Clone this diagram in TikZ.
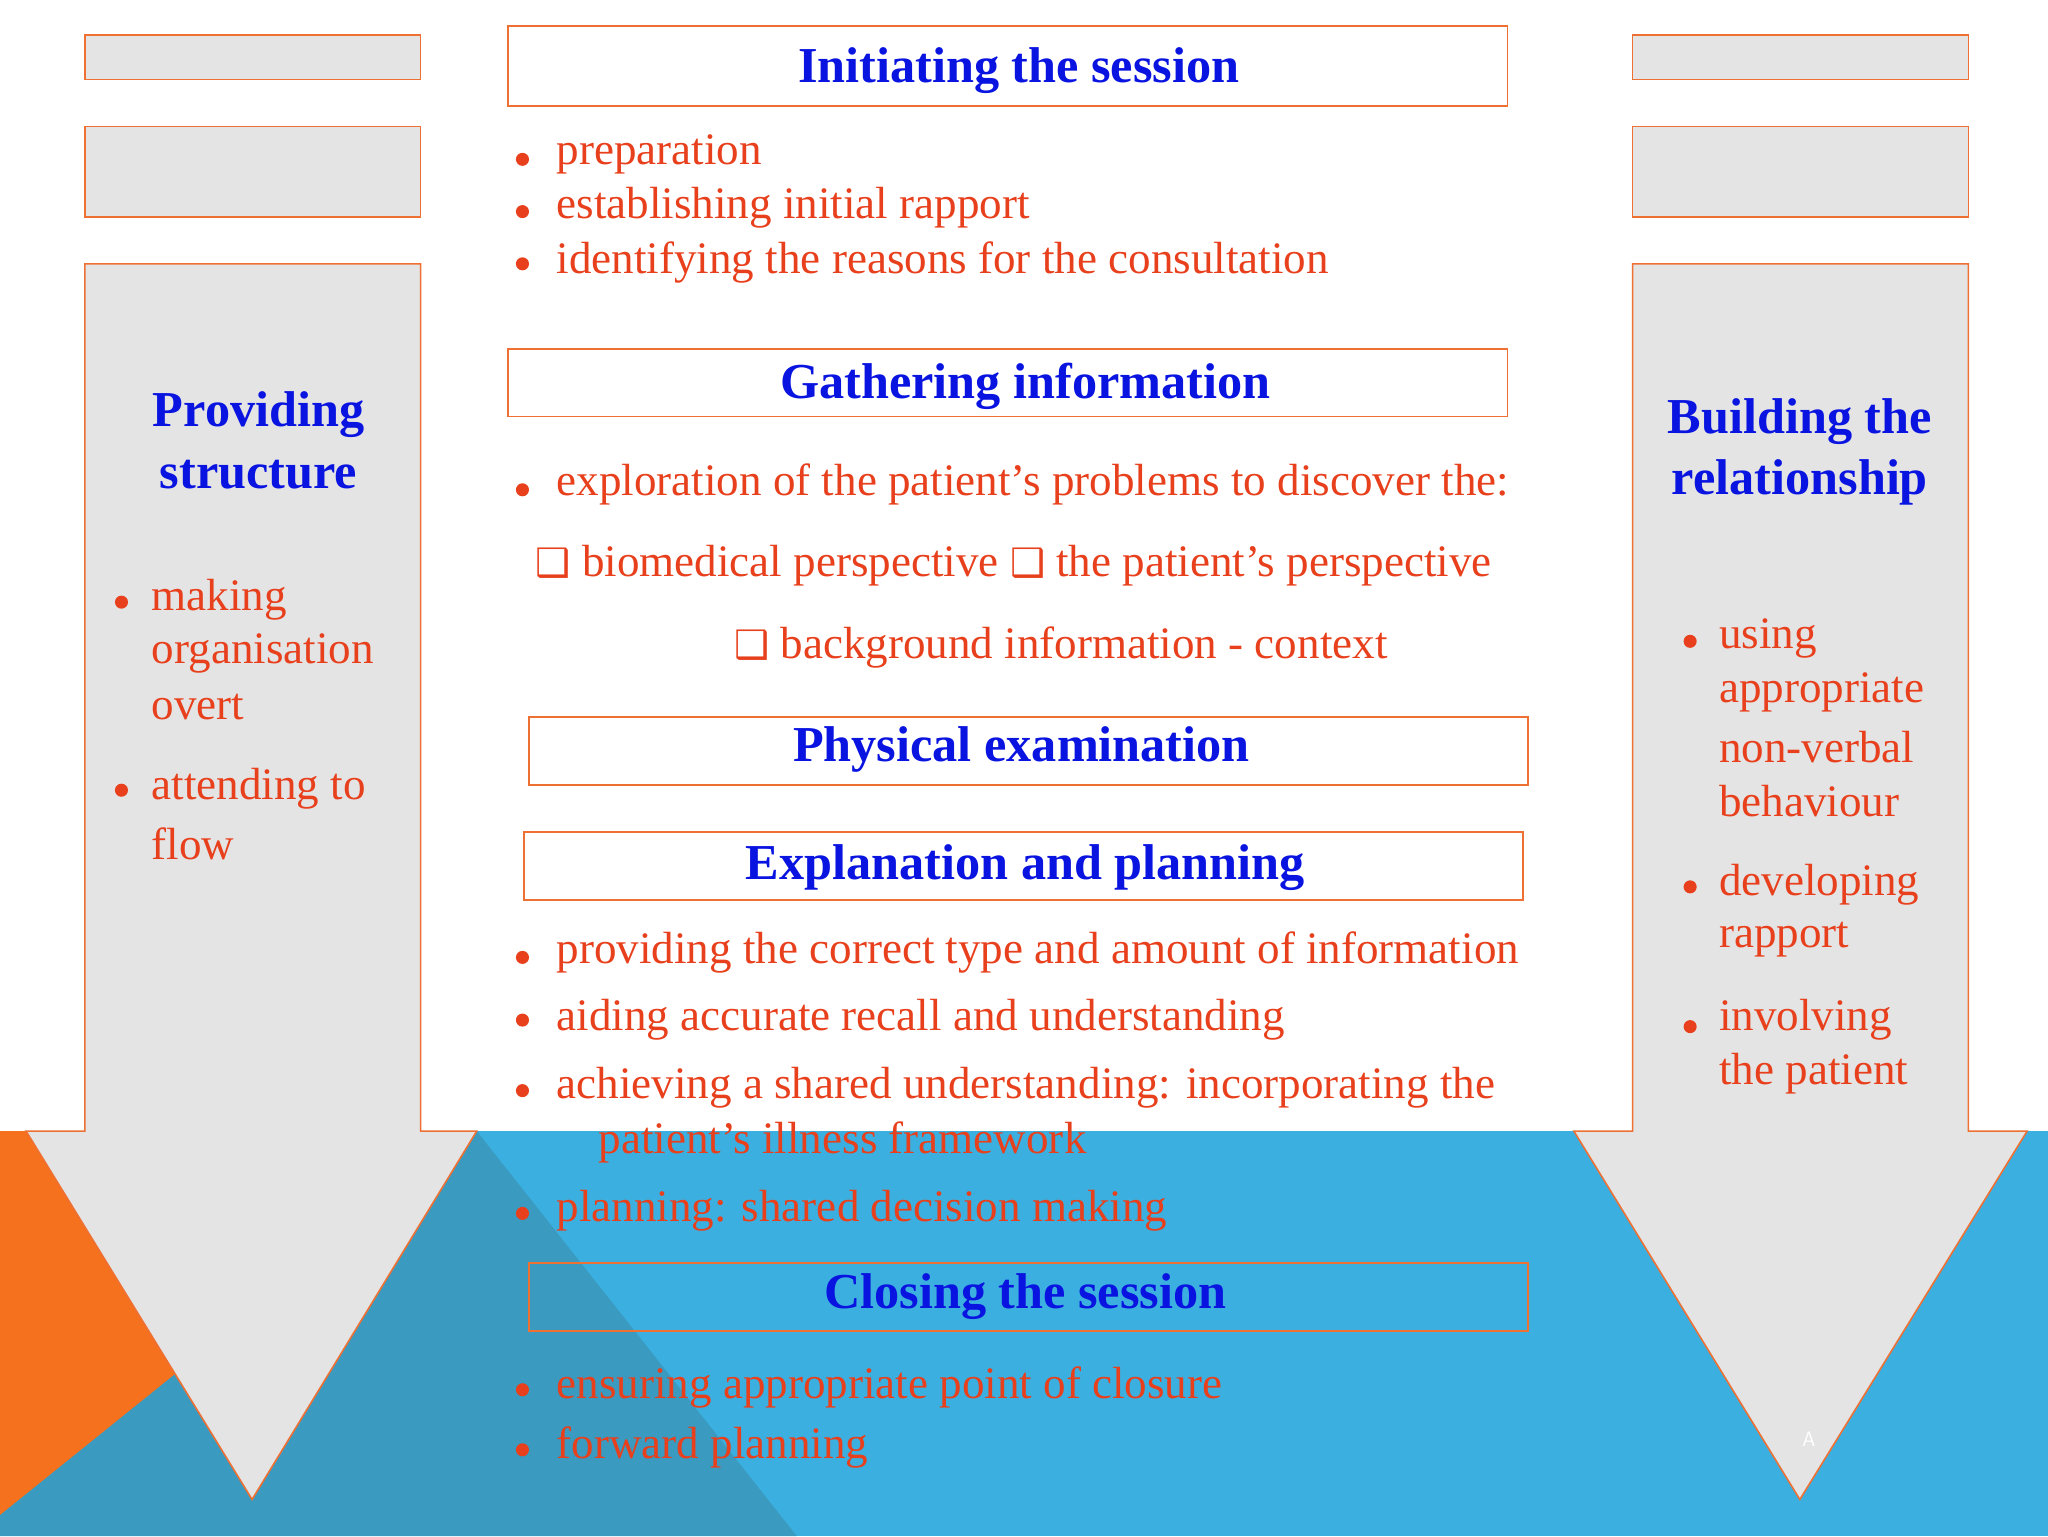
\documentclass[tikz,border=0pt]{standalone}
\usepackage{fontspec}
\setmainfont{Liberation Serif}
\newfontfamily\djv{DejaVu Sans}
\definecolor{bg}{HTML}{3BB0E0}
\definecolor{dk}{HTML}{3A9AC0}
\definecolor{og}{HTML}{F5711E}
\definecolor{bd}{HTML}{EE7033}
\definecolor{gr}{HTML}{E4E4E4}
\definecolor{tx}{HTML}{E8401C}
\definecolor{tb}{HTML}{0A14E0}
\newcommand{\cbx}{{\djv\fontsize{30}{34}\selectfont ❑}}
\begin{document}
\begin{tikzpicture}[x=1pt,y=-1pt,
 arrowbox/.style={fill=gr,draw=bd,line width=1.2pt},
 titlebox/.style={fill=white,draw=bd,line width=1.2pt},
 ttl/.style={text=tb,font=\fontsize{38.5}{47}\selectfont\bfseries},
 body/.style={text=tx,font=\fontsize{34.5}{38}\selectfont,anchor=west,inner sep=0pt},
 dot/.style={circle,fill=tx,inner sep=0pt,minimum size=10pt}]
\useasboundingbox (0,0) rectangle (1568,1176);
\fill[white] (0,0) rectangle (1568,866);
\fill[bg] (0,866) rectangle (1568,1176);
\fill[og] (0,866) -- (365,866) -- (0,1176) -- cycle;
\fill[dk] (365,866) -- (610,1176) -- (0,1176) -- (0,1160) -- cycle;
% left arrow
\draw[arrowbox] (65,27) rectangle (322,61);
\draw[arrowbox] (65,97) rectangle (322,166);
\draw[arrowbox] (65,866) -- (65,202) -- (322,202) -- (322,866) -- (365,866) -- (193,1148) -- (20,866) -- cycle;
% right arrow
\draw[arrowbox] (1250,27) rectangle (1507,61);
\draw[arrowbox] (1250,97) rectangle (1507,166);
\draw[arrowbox] (1250,866) -- (1250,202) -- (1507,202) -- (1507,866) -- (1552,866) -- (1378,1148) -- (1205,866) -- cycle;
% center boxes
\draw[titlebox] (389,20) rectangle (1154,81);
\node[ttl] (t1) at (780,54) {Initiating the session};
\draw[titlebox] (389,267) rectangle (1154,319);
\node[ttl] (t2) at (785,296) {Gathering information};
\draw[titlebox] (405,549) rectangle (1170,601);
\node[ttl] (t3) at (782,574) {Physical examination};
\draw[titlebox] (401,637) rectangle (1166,689);
\node[ttl] (t4) at (785,664) {Explanation and planning};
\draw[draw=bd,line width=1.2pt] (405,967) rectangle (1170,1019);
\node[ttl] (t5) at (785,993) {Closing the session};
% side titles
\node[ttl,align=center] (lt) at (198,337) {Providing\\structure};
\node[ttl,align=center] (rt) at (1378,346) {Building the\\relationship};
\foreach \n/\y in {l1/461,l2/605}{\node[dot] (d\n) at (93,\y) {};}
\node[body] (la) at (116,459) {making};
\node[body] (lb) at (116,500) {organisation};
\node[body] (lc) at (116,541) {overt};
\node[body] (ld) at (116,604) {attending to};
\node[body] (le) at (116,646) {flow};
\foreach \n/\y in {r1/491,r2/679,r3/786}{\node[dot] (d\n) at (1294,\y) {};}
\node[body] (ra) at (1316,489) {using};
\node[body] (rb) at (1316,530) {appropriate};
\node[body] (rc) at (1316,572) {non-verbal};
\node[body] (rd) at (1316,613) {behaviour};
\node[body] (re) at (1316,677) {developing};
\node[body] (rf) at (1316,719) {rapport};
\node[body] (rg) at (1316,781) {involving};
\node[body] (rh) at (1316,822) {the patient};
% center bullets
\foreach \n/\y in {c1/122,c2/162,c3/202,c4/375,c5/733,c6/781,c7/835,c8/929,c9/1064,c10/1110}{\node[dot] (d\n) at (400,\y) {};}
\node[body] (a1) at (426,118) {preparation};
\node[body] (a2) at (426,159) {establishing initial rapport};
\node[body] (a3) at (426,201) {identifying the reasons for the consultation};
\node[body] (b1) at (426,371) {exploration of the patient’s problems to discover the:};
\node[body] (b2) at (410,433) {\cbx\ biomedical perspective \cbx\ the patient’s perspective};
\node[body] (b3) at (562,496) {\cbx\ background information - context};
\node[body] (e1) at (426,729) {providing the correct type and amount of information};
\node[body] (e2) at (426,781) {aiding accurate recall and understanding};
\node[body] (e3) at (426,833) {achieving a shared understanding: incorporating the};
\node[body] (e4) at (458,875) {patient’s illness framework};
\node[body] (e5) at (426,927) {planning: shared decision making};
\node[body] (f1) at (426,1062) {ensuring appropriate point of closure};
\node[body] (f2) at (426,1108) {forward planning};
\node[text=white,font=\fontsize{16}{18}\selectfont\sffamily] (aa) at (1385,1102) {A};
\end{tikzpicture}
\end{document}
